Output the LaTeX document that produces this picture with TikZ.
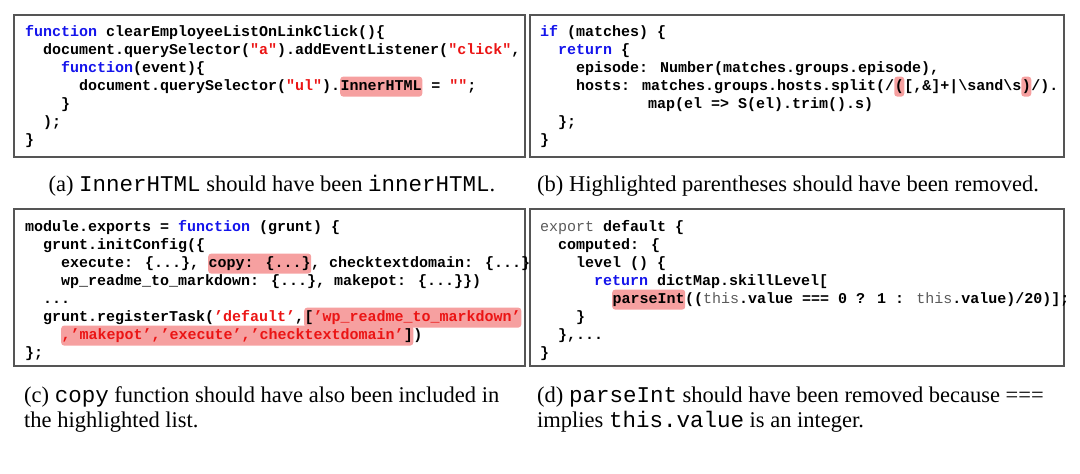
\documentclass[tikz,border=0pt]{standalone}
\usepackage{fontspec}
\setmainfont{Liberation Serif}
\setmonofont{Liberation Mono}
\newfontfamily\codef{Liberation Mono}
\definecolor{kw}{RGB}{20,20,235}
\definecolor{st}{RGB}{235,20,20}
\definecolor{hlc}{RGB}{246,160,160}
\definecolor{frm}{RGB}{85,85,85}
\definecolor{gr}{RGB}{90,90,90}
\newcommand{\K}[1]{\textcolor{kw}{#1}}
\newcommand{\St}[1]{\textcolor{st}{#1}}
\newcommand{\G}[1]{\textcolor{gr}{\mdseries #1}}
\newcommand{\hlx}[1]{\tikz[baseline=(h.base)]\node[fill=hlc,rounded corners=3pt,inner xsep=0.5pt,inner ysep=1.5pt](h){\strut #1};}
\tikzset{
  code/.style={anchor=base west,inner sep=0pt,font=\codef\bfseries\fontsize{15}{17}\selectfont},
  box/.style={draw=frm,line width=1.3pt},
  captxt/.style={inner sep=0pt,font=\fontsize{22.5}{26}\selectfont},
}
\begin{document}
\begin{tikzpicture}[x=1pt,y=-1pt]
\useasboundingbox (0,0) rectangle (1080,474);
\draw[box] (14,15) rectangle (525,157);
\draw[box] (530,15) rectangle (1064,157);
\draw[box] (14,209) rectangle (525,366);
\draw[box] (530,209) rectangle (1064,366);
% (a)
\node[code] (a1) at (25,36) {\K{function} clearEmployeeListOnLinkClick()\{};
\node[code] (a2) at (25,54) {\ \ document.querySelector(\St{"a"}).addEventListener(\St{"click"},};
\node[code] (a3) at (25,72) {\ \ \ \ \K{function}(event)\{};
\node[code] (a4) at (25,90) {\ \ \ \ \ \ document.querySelector(\St{"ul"}).\hlx{InnerHTML} = \St{""};};
\node[code] (a5) at (25,108) {\ \ \ \ \}};
\node[code] (a6) at (25,126) {\ \ );};
\node[code] (a7) at (25,144) {\}};
% (b)
\node[code] (b1) at (540,36) {\K{if} (matches) \{};
\node[code] (b2) at (540,54) {\ \ \K{return} \{};
\node[code] (b3) at (540,72) {\ \ \ \ episode: Number(matches.groups.episode),};
\node[code] (b4) at (540,90) {\ \ \ \ hosts: matches.groups.hosts.split(/\hlx{(}[,\&]+|\textbackslash sand\textbackslash s\hlx{)}/).};
\node[code] (b5) at (540,108) {\ \ \ \ \ \ \ \ \ \ \ \ map(el => S(el).trim().s)};
\node[code] (b6) at (540,126) {\ \ \};};
\node[code] (b7) at (540,144) {\}};
% (c)
\node[code] (c1) at (25,231) {module.exports = \K{function} (grunt) \{};
\node[code] (c2) at (25,249) {\ \ grunt.initConfig(\{};
\node[code] (c3) at (25,267) {\ \ \ \ execute: \{...\}, \hlx{copy: \{...\}}, checktextdomain: \{...\}};
\node[code] (c4) at (25,285) {\ \ \ \ wp\_readme\_to\_markdown: \{...\}, makepot: \{...\}\})};
\node[code] (c5) at (25,303) {\ \ ...};
\node[code] (c6) at (25,321) {\ \ grunt.registerTask(\St{’default’},\hlx{[\St{’wp\_readme\_to\_markdown’}}};
\node[code] (c7) at (25,339) {\ \ \ \ \hlx{\St{,’makepot’,’execute’,’checktextdomain’}]})};
\node[code] (c8) at (25,357) {\};};
% (d)
\node[code] (d1) at (540,231) {\G{export} default \{};
\node[code] (d2) at (540,249) {\ \ computed: \{};
\node[code] (d3) at (540,267) {\ \ \ \ level () \{};
\node[code] (d4) at (540,285) {\ \ \ \ \ \ \K{return} dictMap.skillLevel[};
\node[code] (d5) at (540,303) {\ \ \ \ \ \ \ \ \hlx{parseInt}((\G{this}.value === 0 ? 1 : \G{this}.value)/20)];};
\node[code] (d6) at (540,321) {\ \ \ \ \}};
\node[code] (d7) at (540,339) {\ \ \},...};
\node[code] (d8) at (540,357) {\}};
% captions
\node[captxt,anchor=base] (ca) at (272,191) {(a) \texttt{InnerHTML} should have been \texttt{innerHTML}.};
\node[captxt,anchor=base west] (cb) at (537,191) {(b) Highlighted parentheses should have been removed.};
\node[captxt,anchor=base west] (cc1) at (24,402) {(c) \texttt{copy} function should have also been included in};
\node[captxt,anchor=base west] (cc2) at (24,427) {the highlighted list.};
\node[captxt,anchor=base west] (cd1) at (537,402) {(d) \texttt{parseInt} should have been removed because ===};
\node[captxt,anchor=base west] (cd2) at (537,427) {implies \texttt{this.value} is an integer.};
\end{tikzpicture}
\end{document}
